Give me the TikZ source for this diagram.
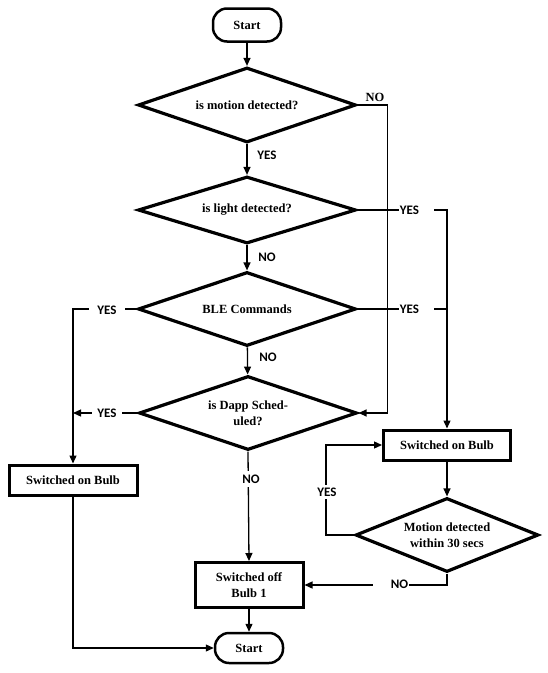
\documentclass[tikz,border=0pt]{standalone}
\usepackage{fontspec}
\setmainfont{Liberation Serif}
\newfontfamily\lblfont{Carlito}
\usetikzlibrary{shapes.geometric,arrows.meta}
\begin{document}
\begin{tikzpicture}[x=1pt,y=-1pt,
  font=\bfseries\fontsize{12.5}{15.5}\selectfont,
  term/.style={draw,line width=2.5pt,rounded corners=14pt,minimum width=68pt,minimum height=33pt,inner sep=0pt},
  dec/.style={draw,diamond,line width=3.2pt,inner sep=0pt,align=center,shape aspect=2.9},
  proc/.style={draw,rectangle,line width=3pt,inner sep=0pt,align=center},
  conn/.style={line width=1.3pt},
  arr/.style={conn,-{Triangle[length=8pt,width=7pt]}},
  lbl/.style={font=\lblfont\bfseries\fontsize{13}{15}\selectfont,fill=white,inner sep=1pt},
]
\useasboundingbox (0,0) rectangle (548,673);

% nodes
\node[term] (s1) at (247,25) {Start};
\node[dec,minimum width=218pt,minimum height=75pt] (d1) at (247,105) {is motion detected?};
\node[dec,minimum width=218pt,minimum height=67pt] (d2) at (247,210) {is light detected?};
\node[dec,minimum width=218pt,minimum height=74pt] (d3) at (247,309) {BLE Commands};
\node[dec,minimum width=218pt,minimum height=74pt] (d4) at (248,413) {is Dapp Sched-\\uled?};
\node[proc,minimum width=128pt,minimum height=30pt] (b1) at (73,480) {Switched on Bulb};
\node[proc,minimum width=127pt,minimum height=30pt] (b2) at (447,445) {Switched on Bulb};
\node[dec,minimum width=183pt,minimum height=74pt,shape aspect=2.45] (d5) at (447,535) {Motion detected\\within 30 secs};
\node[proc,minimum width=108pt,minimum height=45pt] (b3) at (249,585) {Switched off\\Bulb 1};
\node[term,minimum height=30pt] (s2) at (249,648) {Start};

% connectors
\draw[arr] (s1) -- (d1);
\draw[arr] (d1) -- (d2);
\draw[arr] (d2) -- (d3);
\draw[arr] (d3) -- (d4);
\draw[arr] (d1.east) -- ++(30,0) |- (d4.east);
\draw[arr] (d2.east) -| (b2.north);
\draw[conn] (d3.east) -- (d3.east -| b2.north);
\draw[arr] (d3.west) -| (b1.north);
\draw[arr] (d4.west) -- (b1.north |- d4.west);
\draw[arr] (d4.south) -- (b3.north);
\draw[arr] (b2) -- (d5);
\draw[arr] (d5.west) -- ++(-28,0) |- (b2.west);
\draw[arr] (d5.south) |- (b3.east);
\draw[arr] (b3) -- (s2);
\draw[arr] (b1.south) |- (s2.west);

% labels
\node (l0) at (375,97) {NO};
\node[lbl,fill=none] (l1) at (267,155) {YES};
\node[lbl,fill=none] (l2) at (267,257) {NO};
\node[lbl,fill=none] (l3) at (268,357) {NO};
\node[lbl] (l4) at (416.5,210) {YES\rule{14pt}{0pt}};
\node[lbl] (l5) at (416.5,309) {YES\rule{14pt}{0pt}};
\node[lbl,inner xsep=8pt] (l6) at (107,310) {YES};
\node[lbl,inner xsep=5pt] (l7) at (107,413) {YES};
\node[lbl,inner ysep=4pt] (l8) at (251,479) {NO};
\node[lbl,inner ysep=3pt] (l9) at (327,492) {YES};
\node[lbl] (l10) at (391,584) {\rule{17pt}{0pt}NO};
\end{tikzpicture}
\end{document}
